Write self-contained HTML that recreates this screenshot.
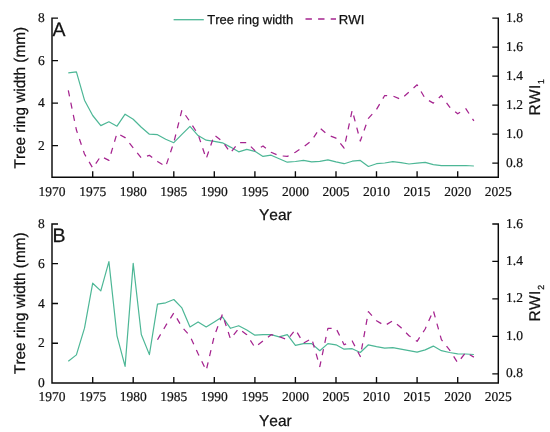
<!DOCTYPE html>
<html><head><meta charset="utf-8"><title>Tree ring width and RWI</title>
<style>
html,body{margin:0;padding:0;background:#fff;}
svg{display:block}
.tk{font-family:"Liberation Serif",serif;font-size:13.5px;fill:#111}
.al{font-family:"Liberation Sans",sans-serif;font-size:15.5px;fill:#111}
.lg{font-family:"Liberation Sans",sans-serif;font-size:13px;fill:#111}
.yl{font-family:"Liberation Sans",sans-serif;font-size:15.5px;fill:#111}
text{stroke:#111;stroke-width:0.25px;text-rendering:geometricPrecision;font-kerning:none}
.tk{stroke-width:0.2px}
.pl{font-family:"Liberation Sans",sans-serif;font-size:19.5px;fill:#111}
</style></head><body>
<svg width="550" height="432" viewBox="0 0 550 432">
<rect width="550" height="432" fill="#fff"/>
<polyline points="68.3,72.8 76.4,71.8 84.5,100.2 92.7,115.5 100.8,125.6 108.9,121.8 117.0,126.2 125.1,114.2 133.2,119.3 141.3,127.2 149.4,134.2 157.5,134.7 165.7,139.2 173.8,142.7 181.9,134.4 190.0,126.3 198.1,135.6 206.2,140.2 214.3,141.3 222.4,142.8 230.5,147.1 238.7,151.8 246.8,149.4 254.9,151.3 263.0,156.4 271.1,155.2 279.2,158.7 287.3,162.2 295.4,161.5 303.5,160.3 311.7,161.8 319.8,161.3 327.9,159.9 336.0,161.9 344.1,163.7 352.2,161.2 360.3,160.4 368.4,166.5 376.5,163.7 384.7,163.0 392.8,161.7 400.9,162.6 409.0,164.0 417.1,163.2 425.2,162.4 433.3,164.7 441.4,165.7 449.5,165.7 457.7,165.7 465.8,165.5 473.9,166.0" fill="none" stroke="#4db796" stroke-width="1.2" stroke-linejoin="round"/>
<polyline points="68.3,90.3 76.4,130.0 84.5,154.0 92.7,168.0 100.8,156.2 108.9,160.4 117.0,133.3 125.1,137.6 133.2,147.8 141.3,158.0 149.4,155.3 157.5,161.5 165.7,166.6 173.8,142.5 181.9,110.1 190.0,121.7 198.1,134.4 206.2,158.7 214.3,135.1 222.4,141.3 230.5,152.9 238.7,142.5 246.8,142.5 254.9,150.6 263.0,146.0 271.1,152.2 279.2,155.7 287.3,156.4 295.4,152.2 303.5,146.8 311.7,140.6 319.8,128.0 327.9,135.0 336.0,138.2 344.1,148.0 352.2,110.2 360.3,141.0 368.4,118.4 376.5,109.5 384.7,95.5 392.8,96.0 400.9,99.3 409.0,92.0 417.1,84.8 425.2,98.5 433.3,103.1 441.4,95.5 449.5,106.9 457.7,113.8 465.8,108.7 473.9,120.9" fill="none" stroke="#a5248f" stroke-width="1.25" stroke-dasharray="6.1 6.4" stroke-linejoin="round"/>
<path d="M58.0,18.1 H52.0 V177.2 H498.3 V18.1 H492.3" fill="none" stroke="#0a0a0a" stroke-width="1.45" stroke-linejoin="miter"/>
<path d="M52.0,60.62 h6 M52.0,103.14 h6 M52.0,145.66 h6 M498.3,47.15 h-6 M498.3,76.15 h-6 M498.3,105.15 h-6 M498.3,134.15 h-6 M498.3,163.15 h-6 M92.7,177.2 v-6 M133.2,177.2 v-6 M173.8,177.2 v-6 M214.3,177.2 v-6 M254.9,177.2 v-6 M295.4,177.2 v-6 M336.0,177.2 v-6 M376.5,177.2 v-6 M417.1,177.2 v-6 M457.7,177.2 v-6" fill="none" stroke="#0a0a0a" stroke-width="1.35"/>
<text class="tk" x="44.8" y="21.9" text-anchor="end">8</text>
<text class="tk" x="44.8" y="64.5" text-anchor="end">6</text>
<text class="tk" x="44.8" y="107.0" text-anchor="end">4</text>
<text class="tk" x="44.8" y="149.6" text-anchor="end">2</text>
<text class="tk" x="506.0" y="22.1">1.8</text>
<text class="tk" x="506.0" y="51.0">1.6</text>
<text class="tk" x="506.0" y="79.9">1.4</text>
<text class="tk" x="506.0" y="108.9">1.2</text>
<text class="tk" x="506.0" y="137.8">1.0</text>
<text class="tk" x="506.0" y="166.7">0.8</text>
<text class="tk" x="52.1" y="195.6" text-anchor="middle">1970</text>
<text class="tk" x="92.7" y="195.6" text-anchor="middle">1975</text>
<text class="tk" x="133.2" y="195.6" text-anchor="middle">1980</text>
<text class="tk" x="173.8" y="195.6" text-anchor="middle">1985</text>
<text class="tk" x="214.3" y="195.6" text-anchor="middle">1990</text>
<text class="tk" x="254.9" y="195.6" text-anchor="middle">1995</text>
<text class="tk" x="295.4" y="195.6" text-anchor="middle">2000</text>
<text class="tk" x="336.0" y="195.6" text-anchor="middle">2005</text>
<text class="tk" x="376.5" y="195.6" text-anchor="middle">2010</text>
<text class="tk" x="417.1" y="195.6" text-anchor="middle">2015</text>
<text class="tk" x="457.7" y="195.6" text-anchor="middle">2020</text>
<text class="tk" x="498.2" y="195.6" text-anchor="middle">2025</text>
<text class="pl" x="52.4" y="35.9">A</text>
<text class="al" x="275.3" y="220.0" text-anchor="middle">Year</text>
<text class="yl" transform="translate(24.6,97.7) rotate(-90)" text-anchor="middle" textLength="141.5" lengthAdjust="spacingAndGlyphs">Tree ring width (mm)</text>
<text class="yl" transform="translate(539.5,115.5) rotate(-90)" letter-spacing="0.3">RWI<tspan font-size="8.8" dx="0.5" dy="4.8">1</tspan></text>
<line x1="173.6" y1="19.7" x2="203.8" y2="19.7" stroke="#4db796" stroke-width="1.3"/>
<text class="lg" x="207.2" y="23.7" textLength="86" lengthAdjust="spacingAndGlyphs">Tree ring width</text>
<line x1="305.5" y1="19" x2="336" y2="19" stroke="#a5248f" stroke-width="1.4" stroke-dasharray="6.4 6.2"/>
<text class="lg" x="338.8" y="23.7" textLength="25.6" lengthAdjust="spacingAndGlyphs">RWI</text>
<polyline points="68.3,361.3 76.4,354.9 84.5,328.2 92.7,283.2 100.8,290.9 108.9,261.6 117.0,335.8 125.1,366.4 133.2,263.4 141.3,334.5 149.4,354.6 157.5,304.1 165.7,302.8 173.8,299.5 181.9,307.9 190.0,327.0 198.1,321.9 206.2,327.0 214.3,321.9 222.4,316.8 230.5,328.3 238.7,325.7 246.8,330.0 254.9,335.2 263.0,334.7 271.1,334.7 279.2,336.9 287.3,334.7 295.4,345.4 303.5,343.6 311.7,343.6 319.8,350.7 327.9,343.6 336.0,344.8 344.1,349.2 352.2,348.7 360.3,352.5 368.4,344.8 376.5,346.6 384.7,348.2 392.8,347.6 400.9,349.2 409.0,350.7 417.1,352.2 425.2,349.9 433.3,346.1 441.4,350.7 449.5,352.5 457.7,353.8 465.8,354.0 473.9,354.5" fill="none" stroke="#4db796" stroke-width="1.2" stroke-linejoin="round"/>
<polyline points="157.5,339.7 165.7,325.7 173.8,313.0 181.9,327.0 190.0,335.9 198.1,353.8 206.2,370.5 214.3,335.9 222.4,314.3 230.5,339.0 238.7,328.5 246.8,334.7 254.9,347.4 263.0,341.0 271.1,334.7 279.2,336.7 287.3,339.7 295.4,329.6 303.5,343.2 311.7,338.5 319.8,366.5 327.9,328.3 336.0,328.3 344.1,344.8 352.2,341.0 360.3,356.5 368.4,311.7 376.5,320.7 384.7,325.7 392.8,320.7 400.9,327.5 409.0,335.7 417.1,341.3 425.2,329.0 433.3,310.5 441.4,339.7 449.5,349.9 457.7,362.7 465.8,352.5 473.9,357.1" fill="none" stroke="#a5248f" stroke-width="1.25" stroke-dasharray="6.1 6.4" stroke-linejoin="round"/>
<path d="M58.0,223.9 H52.0 V383.0 H498.3 V223.9 H492.3" fill="none" stroke="#0a0a0a" stroke-width="1.45" stroke-linejoin="miter"/>
<path d="M52.0,263.68 h6 M52.0,303.46 h6 M52.0,343.24 h6 M498.3,261.38 h-6 M498.3,298.85 h-6 M498.3,336.33 h-6 M498.3,373.8 h-6 M92.7,383.0 v-6 M133.2,383.0 v-6 M173.8,383.0 v-6 M214.3,383.0 v-6 M254.9,383.0 v-6 M295.4,383.0 v-6 M336.0,383.0 v-6 M376.5,383.0 v-6 M417.1,383.0 v-6 M457.7,383.0 v-6" fill="none" stroke="#0a0a0a" stroke-width="1.35"/>
<text class="tk" x="44.8" y="227.8" text-anchor="end">8</text>
<text class="tk" x="44.8" y="267.6" text-anchor="end">6</text>
<text class="tk" x="44.8" y="307.6" text-anchor="end">4</text>
<text class="tk" x="44.8" y="347.4" text-anchor="end">2</text>
<text class="tk" x="44.8" y="387.4" text-anchor="end">0</text>
<text class="tk" x="506.0" y="227.5">1.6</text>
<text class="tk" x="506.0" y="264.9">1.4</text>
<text class="tk" x="506.0" y="302.4">1.2</text>
<text class="tk" x="506.0" y="339.9">1.0</text>
<text class="tk" x="506.0" y="377.3">0.8</text>
<text class="tk" x="52.1" y="400.9" text-anchor="middle">1970</text>
<text class="tk" x="92.7" y="400.9" text-anchor="middle">1975</text>
<text class="tk" x="133.2" y="400.9" text-anchor="middle">1980</text>
<text class="tk" x="173.8" y="400.9" text-anchor="middle">1985</text>
<text class="tk" x="214.3" y="400.9" text-anchor="middle">1990</text>
<text class="tk" x="254.9" y="400.9" text-anchor="middle">1995</text>
<text class="tk" x="295.4" y="400.9" text-anchor="middle">2000</text>
<text class="tk" x="336.0" y="400.9" text-anchor="middle">2005</text>
<text class="tk" x="376.5" y="400.9" text-anchor="middle">2010</text>
<text class="tk" x="417.1" y="400.9" text-anchor="middle">2015</text>
<text class="tk" x="457.7" y="400.9" text-anchor="middle">2020</text>
<text class="tk" x="498.2" y="400.9" text-anchor="middle">2025</text>
<text class="pl" x="52.4" y="241.7">B</text>
<text class="al" x="275.3" y="425.8" text-anchor="middle">Year</text>
<text class="yl" transform="translate(24.6,303.2) rotate(-90)" text-anchor="middle" textLength="141.5" lengthAdjust="spacingAndGlyphs">Tree ring width (mm)</text>
<text class="yl" transform="translate(539.5,321.4) rotate(-90)" letter-spacing="0.3">RWI<tspan font-size="8.8" dx="0.5" dy="4.8">2</tspan></text>
</svg>
</body></html>
